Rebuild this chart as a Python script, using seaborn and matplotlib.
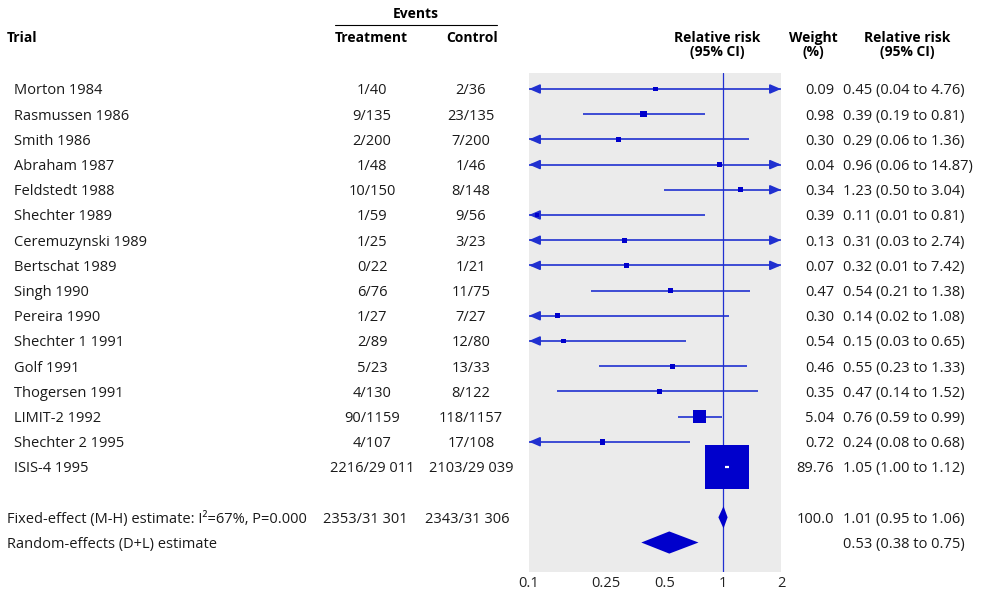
import numpy as np
import pandas as pd
import seaborn as sns
import matplotlib.pyplot as plt
from matplotlib.transforms import blended_transform_factory
from matplotlib.patches import Polygon

# Trial data
trials = ['Morton 1984', 'Rasmussen 1986', 'Smith 1986', 'Abraham 1987',
          'Feldstedt 1988', 'Shechter 1989', 'Ceremuzynski 1989', 'Bertschat 1989',
          'Singh 1990', 'Pereira 1990', 'Shechter 1 1991', 'Golf 1991',
          'Thogersen 1991', 'LIMIT-2 1992', 'Shechter 2 1995', 'ISIS-4 1995']
treat_events = ['1/40', '9/135', '2/200', '1/48', '10/150', '1/59', '1/25', '0/22',
                '6/76', '1/27', '2/89', '5/23', '4/130', '90/1159', '4/107', '2216/29 011']
control_events = ['2/36', '23/135', '7/200', '1/46', '8/148', '9/56', '3/23', '1/21',
                  '11/75', '7/27', '12/80', '13/33', '8/122', '118/1157', '17/108', '2103/29 039']
weights = [0.09, 0.98, 0.30, 0.04, 0.34, 0.39, 0.13, 0.07,
           0.47, 0.30, 0.54, 0.46, 0.35, 5.04, 0.72, 89.76]
rr = [0.45, 0.39, 0.29, 0.96, 1.23, 0.11, 0.31, 0.32,
      0.54, 0.14, 0.15, 0.55, 0.47, 0.76, 0.24, 1.05]
rr_low = [0.04, 0.19, 0.06, 0.06, 0.50, 0.01, 0.03, 0.01,
          0.21, 0.02, 0.03, 0.23, 0.14, 0.59, 0.08, 1.00]
rr_high = [4.76, 0.81, 1.36, 14.87, 3.04, 0.81, 2.74, 7.42,
           1.38, 1.08, 0.65, 1.33, 1.52, 0.99, 0.68, 1.12]

# Pooled estimates
fixed_label = 'Fixed-effect (M-H) estimate: I\u00b2=67%, P=0.000'
fixed_treat = '2353/31 301'
fixed_control = '2343/31 306'
fixed_weight = '100.0'
fixed_rr = [0.95, 1.01, 1.06]
random_label = 'Random-effects (D+L) estimate'
random_rr = [0.38, 0.53, 0.75]

x_ticks = [0.1, 0.25, 0.5, 1, 2]
x_tick_labels = ['0.1', '0.25', '0.5', '1', '2']

blue = '#0000cc'
line_blue = '#2030d0'

sns.set_style('white')
plt.rcParams['font.family'] = ['Open Sans', 'DejaVu Sans']

W, H = 984, 592
fig = plt.figure(figsize=(W / 100, H / 100), dpi=100)
ax = fig.add_axes([529 / W, 20 / H, 252 / W, 499 / H])
ax.set_facecolor('#ebebeb')
for s in ax.spines.values():
    s.set_visible(False)

xmin, xmax = 0.1, 2
ax.set_xscale('log')
ax.set_xlim(xmin, xmax)
ax.set_ylim(19.17, -0.635)

rows = np.arange(len(trials))
fixed_row, random_row = 17, 18

# line of no effect
ax.axvline(1, color=line_blue, lw=0.9, zorder=2)

# confidence intervals, with arrows where they run off the scale
arrow = dict(arrowstyle='-|>,head_length=0.65,head_width=0.28',
             color=line_blue, lw=1.2, shrinkA=0, shrinkB=0)
for r, lo, hi in zip(rows, rr_low, rr_high):
    a, b = max(lo, xmin), min(hi, xmax)
    ax.plot([a, b], [r, r], color=line_blue, lw=1.2, solid_capstyle='butt', zorder=3)
    if lo < xmin:
        ax.annotate('', xy=(xmin, r), xytext=(xmin * 1.12, r), arrowprops=arrow, zorder=4)
    if hi > xmax:
        ax.annotate('', xy=(xmax, r), xytext=(xmax / 1.12, r), arrowprops=arrow, zorder=4)

# squares, area growing with weight
df = pd.DataFrame({'rr': rr, 'row': rows, 'w': weights})
side_px = np.maximum(4.8, 6.4 * df['w'] ** 0.43)
df['s'] = (side_px * 0.72) ** 2
sns.scatterplot(data=df, x='rr', y='row', marker='s', s=df['s'], color=blue,
                linewidth=0, edgecolor='none', ax=ax, zorder=5, legend=False)
big = df['w'].idxmax()
ax.plot(df.loc[big, 'rr'], df.loc[big, 'row'], marker='_', color='white',
        ms=3.5, mew=1.6, zorder=6)

# pooled diamonds
for r, (lo, est, hi) in [(fixed_row, fixed_rr), (random_row, random_rr)]:
    h = 0.44
    ax.add_patch(Polygon([(lo, r), (est, r - h), (hi, r), (est, r + h)],
                         closed=True, color=blue, lw=0, zorder=5))

ax.set_xticks(x_ticks)
ax.set_xticklabels(x_tick_labels)
ax.minorticks_off()
ax.set_yticks([])
ax.tick_params(axis='x', direction='in', length=5, width=1.6, color='white',
               labelsize=10.5, labelcolor='#222222', pad=3)
ax.set_xlabel('')
ax.set_ylabel('')

# text columns
trans = blended_transform_factory(fig.transFigure, ax.transData)
fs = 10.5
txt = '#1a1a1a'
kw = dict(transform=trans, va='center_baseline', fontsize=fs, color=txt)
for r in rows:
    ax.text(14 / W, r, trials[r], ha='left', **kw)
    ax.text(372 / W, r, treat_events[r], ha='center', **kw)
    ax.text(471 / W, r, control_events[r], ha='center', **kw)
    ax.text(834 / W, r, f'{weights[r]:.2f}', ha='right', **kw)
    ax.text(843 / W, r, f'{rr[r]:.2f} ({rr_low[r]:.2f} to {rr_high[r]:.2f})', ha='left', **kw)

ax.text(7 / W, fixed_row, fixed_label, ha='left', **kw)
ax.text(365 / W, fixed_row, fixed_treat, ha='center', **kw)
ax.text(467 / W, fixed_row, fixed_control, ha='center', **kw)
ax.text(834 / W, fixed_row, fixed_weight, ha='right', **kw)
ax.text(843 / W, fixed_row, f'{fixed_rr[1]:.2f} ({fixed_rr[0]:.2f} to {fixed_rr[2]:.2f})',
        ha='left', **kw)
ax.text(7 / W, random_row, random_label, ha='left', **kw)
ax.text(843 / W, random_row, f'{random_rr[1]:.2f} ({random_rr[0]:.2f} to {random_rr[2]:.2f})',
        ha='left', **kw)

# headers
def head(x, y, s, ha='center'):
    fig.text(x / W, 1 - y / H, s, ha=ha, va='center', fontsize=10, fontweight='bold',
             color='black', linespacing=1.05)

head(7, 38, 'Trial', ha='left')
head(416, 14, 'Events')
fig.add_artist(plt.Line2D([335 / W, 497 / W], [1 - 25 / H, 1 - 25 / H], color='black', lw=0.8))
head(371, 38, 'Treatment')
head(472, 38, 'Control')
head(717, 45, 'Relative risk\n(95% CI)')
head(813, 45, 'Weight\n(%)')
head(907, 45, 'Relative risk\n(95% CI)')

fig.savefig('out.png', dpi=100)
